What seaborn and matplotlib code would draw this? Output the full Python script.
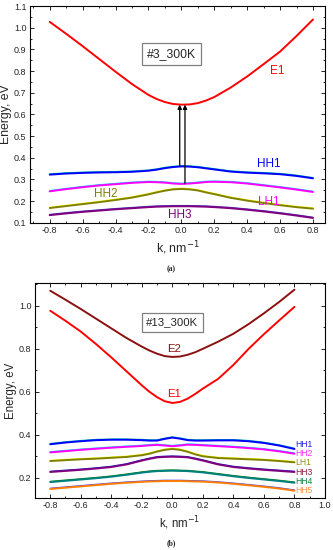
import numpy as np
import pandas as pd
import matplotlib
matplotlib.use('Agg')
import matplotlib.pyplot as plt
import seaborn as sns
from matplotlib.ticker import MultipleLocator

# k grid (nm^-1), shared by all curves
k = [-0.8, -0.7, -0.6, -0.5, -0.4, -0.3, -0.2, -0.15, -0.1, -0.05, 0.0,
     0.05, 0.1, 0.15, 0.2, 0.3, 0.4, 0.5, 0.6, 0.7, 0.8]

# panel (a): #3_300K
a_E1 = [1.027, 0.972, 0.915, 0.856, 0.797, 0.740, 0.690, 0.671, 0.657, 0.648, 0.645,
        0.646, 0.652, 0.664, 0.680, 0.724, 0.775, 0.832, 0.890, 0.962, 1.038]
a_HH1 = [0.322, 0.327, 0.330, 0.332, 0.333, 0.335, 0.340, 0.345, 0.352, 0.357, 0.360,
         0.359, 0.356, 0.351, 0.346, 0.336, 0.331, 0.328, 0.324, 0.316, 0.305]
a_LH1 = [0.245, 0.255, 0.264, 0.272, 0.278, 0.284, 0.288, 0.287, 0.285, 0.281, 0.279,
         0.281, 0.284, 0.288, 0.289, 0.287, 0.281, 0.272, 0.263, 0.253, 0.242]
a_HH2 = [0.168, 0.177, 0.186, 0.195, 0.205, 0.216, 0.231, 0.240, 0.248, 0.254, 0.256,
         0.254, 0.249, 0.240, 0.232, 0.215, 0.202, 0.191, 0.181, 0.172, 0.165]
a_HH3 = [0.135, 0.143, 0.150, 0.156, 0.162, 0.167, 0.172, 0.174, 0.175, 0.176, 0.176,
         0.176, 0.175, 0.174, 0.172, 0.167, 0.160, 0.152, 0.143, 0.133, 0.122]

# transitions in panel (a): k, start energy, end energy
arrow_k = [-0.01, 0.022]
arrow_from = [0.360, 0.280]
arrow_to = [0.645, 0.645]

# panel (b): #13_300K
b_E2 = [1.070, 1.028, 0.985, 0.940, 0.895, 0.850, 0.810, 0.792, 0.777, 0.766, 0.762,
        0.764, 0.772, 0.784, 0.800, 0.833, 0.870, 0.915, 0.965, 1.018, 1.075]
b_E1 = [0.977, 0.930, 0.880, 0.822, 0.760, 0.695, 0.630, 0.600, 0.575, 0.556, 0.548,
        0.553, 0.568, 0.590, 0.615, 0.660, 0.725, 0.800, 0.868, 0.932, 0.995]
b_HH1 = [0.356, 0.364, 0.370, 0.375, 0.377, 0.377, 0.375, 0.373, 0.373, 0.381, 0.387,
         0.382, 0.375, 0.373, 0.373, 0.374, 0.374, 0.370, 0.362, 0.350, 0.334]
b_HH2 = [0.318, 0.324, 0.330, 0.335, 0.340, 0.344, 0.348, 0.351, 0.353, 0.350, 0.347,
         0.350, 0.354, 0.353, 0.351, 0.347, 0.343, 0.338, 0.332, 0.323, 0.312]
b_LH1 = [0.278, 0.282, 0.286, 0.289, 0.293, 0.297, 0.305, 0.312, 0.322, 0.330, 0.334,
         0.330, 0.321, 0.309, 0.300, 0.292, 0.289, 0.286, 0.283, 0.278, 0.272]
b_HH3 = [0.227, 0.232, 0.237, 0.243, 0.250, 0.262, 0.280, 0.288, 0.295, 0.297, 0.298,
         0.297, 0.295, 0.288, 0.280, 0.262, 0.250, 0.243, 0.237, 0.232, 0.227]
b_HH4 = [0.180, 0.186, 0.192, 0.198, 0.205, 0.214, 0.224, 0.228, 0.231, 0.232, 0.233,
         0.232, 0.231, 0.228, 0.225, 0.216, 0.207, 0.199, 0.192, 0.185, 0.177]
b_HH5 = [0.148, 0.154, 0.160, 0.166, 0.172, 0.177, 0.181, 0.183, 0.184, 0.185, 0.185,
         0.185, 0.184, 0.183, 0.182, 0.178, 0.172, 0.165, 0.158, 0.150, 0.140]

pal_a = {'E1': '#ff0000', 'HH1': '#0000ff', 'LH1': '#ff00ff',
         'HH2': '#808000', 'HH3': '#800080'}
edge_a = {'HH1': '#00c0a0', 'LH1': '#00e0ff', 'HH2': '#ffff00', 'HH3': '#4040c0'}
pal_b = {'E1': '#ff0000', 'E2': '#8b1010', 'HH1': '#0000ff',
         'HH2': '#ff00ff', 'LH1': '#808000', 'HH3': '#800080',
         'HH4': '#008080', 'HH5': '#ff7f00'}
edge_b = {'HH1': '#00c0a0', 'HH2': '#00e0ff', 'LH1': '#ffff00',
          'HH3': '#2020c0', 'HH4': '#008000', 'HH5': '#4040ff'}

sns.set_theme(style='ticks')
plt.rcParams['font.family'] = ['Liberation Sans', 'DejaVu Sans']


def long_df(curves):
    rows = []
    for name, vals in curves.items():
        rows.append(pd.DataFrame({'k': k, 'E': vals, 'band': name}))
    return pd.concat(rows, ignore_index=True)


def style_axes(ax, lab_fs):
    ax.tick_params(which='both', direction='in', top=True, right=True,
                   labelsize=6.5, pad=2.5, width=0.7)
    ax.tick_params(which='major', length=3)
    ax.tick_params(which='minor', length=1.6)
    for s in ax.spines.values():
        s.set_linewidth(0.8)
        s.set_color('black')
    ax.xaxis.set_major_locator(MultipleLocator(0.2))
    ax.xaxis.set_minor_locator(MultipleLocator(0.1))
    ax.xaxis.set_major_formatter(plt.FuncFormatter(lambda v, p: f'{v:.1f}'))
    ax.yaxis.set_major_formatter(plt.FuncFormatter(lambda v, p: f'{v:.1f}'))
    ax.set_xlabel('k, nm$^{-1}$', fontsize=lab_fs, labelpad=3)
    ax.set_ylabel('Energy, eV', fontsize=lab_fs, labelpad=1.5)


def draw(ax, curves, pal, edge):
    df = long_df(curves)
    # faint second branch colour, slightly offset (degenerate subbands)
    for name in curves:
        if name in edge:
            sub = df[df['band'] == name]
            ax.plot(sub['k'], sub['E'] + 0.003, color=edge[name], lw=1.0, zorder=1)
    sns.lineplot(data=df, x='k', y='E', hue='band', palette=pal,
                 legend=False, ax=ax, lw=1.4, zorder=2, sort=False)


fig = plt.figure(figsize=(3.33, 5.5), dpi=100)

# ---- (a)
ax1 = fig.add_axes([0.090, 0.595, 0.886, 0.394])
draw(ax1, {'E1': a_E1, 'HH1': a_HH1, 'LH1': a_LH1, 'HH2': a_HH2, 'HH3': a_HH3},
     pal_a, edge_a)
for kk, e0, e1 in zip(arrow_k, arrow_from, arrow_to):
    ax1.annotate('', xy=(kk, e1), xytext=(kk, e0),
                 arrowprops=dict(arrowstyle='-|>', color='black', lw=0.9,
                                 mutation_scale=6, shrinkA=0, shrinkB=0))
ax1.set_xlim(-0.92, 0.873)
ax1.set_ylim(0.1, 1.1)
ax1.yaxis.set_major_locator(MultipleLocator(0.1))
ax1.yaxis.set_minor_locator(MultipleLocator(0.05))
style_axes(ax1, 8.8)
ax1.text(-0.06, 0.88, '#3_300K', fontsize=8.8, ha='center', va='center',
         bbox=dict(boxstyle='square,pad=0.4', fc='white', ec='#808080', lw=0.9))
lab_a = {'E1': (0.58, 0.80), 'HH1': (0.53, 0.372), 'LH1': (0.53, 0.198),
         'HH2': (-0.46, 0.233), 'HH3': (-0.01, 0.134)}
for name, (x, y) in lab_a.items():
    ax1.text(x, y, name, color=pal_a[name], fontsize=8.5, ha='center', va='center')
fig.text(0.515, 0.511, '(a)', fontsize=5.5, ha='center', va='center',
         family=['Liberation Serif'], fontweight='bold')

# ---- (b)
ax2 = fig.add_axes([0.105, 0.0945, 0.871, 0.391])
draw(ax2, {'E2': b_E2, 'E1': b_E1, 'HH1': b_HH1, 'HH2': b_HH2, 'LH1': b_LH1,
           'HH3': b_HH3, 'HH4': b_HH4, 'HH5': b_HH5}, pal_b, edge_b)
ax2.set_xlim(-0.9, 1.0)
ax2.set_ylim(0.106, 1.106)
ax2.yaxis.set_major_locator(MultipleLocator(0.2))
ax2.yaxis.set_minor_locator(MultipleLocator(0.1))
style_axes(ax2, 8.3)
ax2.text(0.0, 0.923, '#13_300K', fontsize=8.2, ha='center', va='center',
         bbox=dict(boxstyle='square,pad=0.4', fc='white', ec='#808080', lw=0.9))
ax2.text(0.01, 0.80, 'E2', color=pal_b['E2'], fontsize=8.2, ha='center', va='center')
ax2.text(0.01, 0.589, 'E1', color=pal_b['E1'], fontsize=8.2, ha='center', va='center')
side = {'HH1': 0.355, 'HH2': 0.315, 'LH1': 0.270, 'HH3': 0.226,
        'HH4': 0.183, 'HH5': 0.142}
side_col = {'HH1': '#2020e0', 'HH2': '#ff30ff', 'LH1': '#909010',
            'HH3': '#902040', 'HH4': '#108040', 'HH5': '#ff9040'}
for name, y in side.items():
    ax2.text(0.803, y, name, color=side_col[name], fontsize=6.2, ha='left', va='center')
fig.text(0.515, 0.006, '(b)', fontsize=5.5, ha='center', va='bottom',
         family=['Liberation Serif'], fontweight='bold')

fig.savefig('out.png', dpi=100)
